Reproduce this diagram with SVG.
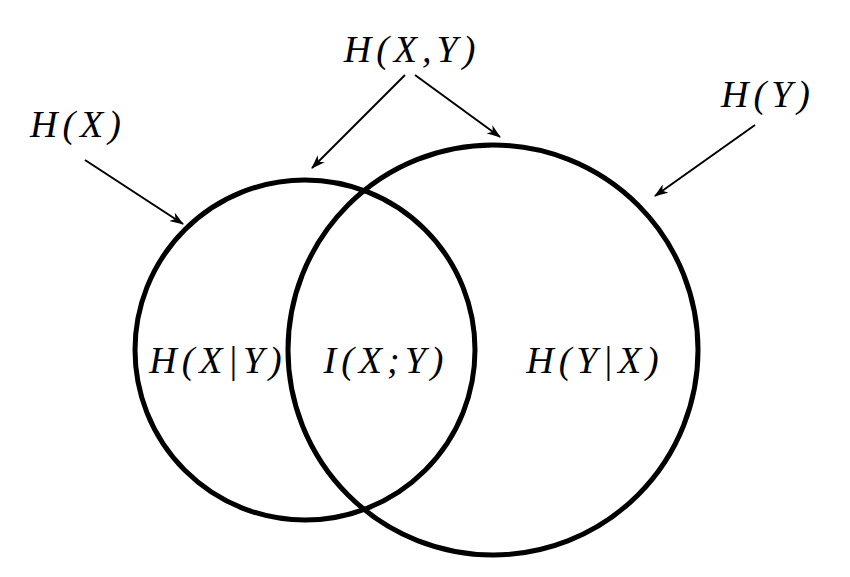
<svg xmlns="http://www.w3.org/2000/svg" width="850" height="577" viewBox="0 0 850 577">
<style>
.c{fill:none;stroke:#000;stroke-width:5}
.a{stroke:#000;stroke-width:2;fill:none;marker-end:url(#m)}
text{font-family:"Liberation Serif","DejaVu Serif",serif;font-style:italic;font-size:38px;fill:#000;text-anchor:middle;letter-spacing:5px}
</style>
<defs><marker id="m" markerWidth="14" markerHeight="10" refX="13" refY="5" orient="auto" markerUnits="userSpaceOnUse"><path d="M0,0 L14,5 L0,10 L4,5 Z" fill="#000"/></marker></defs>
<rect width="850" height="577" fill="#fff"/>
<g id="circleX"><circle class="c" cx="305" cy="350" r="170"/></g>
<g id="circleY"><circle class="c" cx="493" cy="350" r="205"/></g>
<g id="connectors">
<line class="a" x1="85" y1="160" x2="183" y2="224"/>
<line class="a" x1="405" y1="75" x2="312" y2="168"/>
<line class="a" x1="415" y1="75" x2="500" y2="137"/>
<line class="a" x1="755" y1="125" x2="655" y2="196"/>
</g>
<g id="labels">
<text x="78" y="137">H(X)</text>
<text x="412" y="62">H(X,Y)</text>
<text x="768" y="107">H(Y)</text>
<text x="218" y="373">H(X|Y)</text>
<text x="386" y="373">I(X;Y)</text>
<text x="595" y="373">H(Y|X)</text>
</g>
</svg>
